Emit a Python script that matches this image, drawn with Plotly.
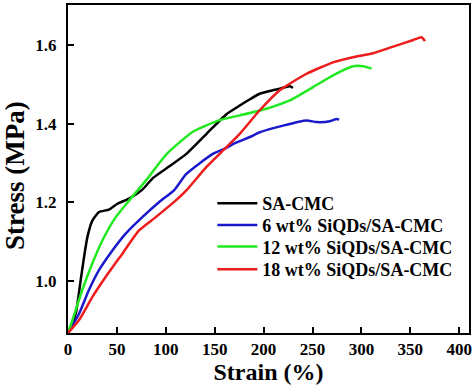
import plotly.graph_objects as go

# SA-CMC
sa_x = [0, 7.9, 13, 16.4, 19.8, 24.9, 31.7, 42, 50.5, 62.4, 76, 87, 104, 121, 141.6, 162, 175.6, 186, 196, 206, 216.5, 226.8, 230]
sa_y = [0.867, 0.916, 1.002, 1.06, 1.111, 1.153, 1.175, 1.181, 1.196, 1.209, 1.232, 1.262, 1.292, 1.323, 1.374, 1.424, 1.446, 1.462, 1.476, 1.483, 1.489, 1.495, 1.491]

# 6 wt%
b_x = [0, 11.3, 21.5, 31.7, 45.4, 59, 76, 93, 108.4, 121, 148, 160, 172.3, 186, 196, 219.9, 243.9, 254, 267.7, 274.6, 277.2]
b_y = [0.867, 0.916, 0.977, 1.027, 1.077, 1.12, 1.162, 1.2, 1.23, 1.272, 1.323, 1.336, 1.352, 1.366, 1.378, 1.395, 1.408, 1.404, 1.406, 1.412, 1.41]

# 12 wt%
g_x = [0, 4.5, 14.7, 25, 35, 48.8, 62.4, 79.5, 100.6, 128, 155, 175.6, 203, 226.8, 250.6, 271, 291.6, 301.8, 310.4]
g_y = [0.867, 0.9, 0.977, 1.045, 1.102, 1.162, 1.204, 1.255, 1.322, 1.38, 1.409, 1.421, 1.438, 1.459, 1.493, 1.523, 1.546, 1.546, 1.54]

# 18 wt%
r_x = [0, 11.3, 25, 38.6, 55.6, 72.6, 89.7, 110, 121, 141.6, 162, 175.6, 196, 216.5, 243.9, 271, 295, 312, 332.5, 353, 361.5, 365]
r_y = [0.867, 0.9, 0.959, 1.01, 1.069, 1.128, 1.162, 1.204, 1.23, 1.29, 1.34, 1.374, 1.434, 1.485, 1.527, 1.556, 1.571, 1.579, 1.596, 1.613, 1.62, 1.61]

names = ["SA-CMC", "6 wt% SiQDs/SA-CMC", "12 wt% SiQDs/SA-CMC", "18 wt% SiQDs/SA-CMC"]
colors = ["#000000", "#1a1acc", "#22e822", "#ee1c1c"]

x_ticks = [0, 50, 100, 150, 200, 250, 300, 350, 400]
y_ticks = [1.0, 1.2, 1.4, 1.6]

FONT = "Liberation Serif, Times New Roman, serif"

legend_ids = ["legend", "legend2", "legend3", "legend4"]
legend_y = [0.4512, 0.3851, 0.3189, 0.2500]

fig = go.Figure()
for xs, ys, nm, c, lg in zip([sa_x, b_x, g_x, r_x], [sa_y, b_y, g_y, r_y], names, colors, legend_ids):
    fig.add_trace(go.Scatter(x=xs, y=ys, mode="lines", name=nm, legend=lg,
                             line=dict(color=c, width=2.5, shape="spline", smoothing=0.5)))

axis_common = dict(
    showline=True, linecolor="black", linewidth=2, mirror=True,
    ticks="inside", ticklen=6, tickwidth=2, tickcolor="black",
    showgrid=False, zeroline=False, automargin=False,
    tickfont=dict(family=FONT, size=17, color="black", weight="bold"),
)

fig.update_xaxes(range=[0, 410], tickvals=x_ticks,
                 title=dict(text="Strain (%)", font=dict(family=FONT, size=24, color="black", weight="bold"), standoff=4),
                 ticklabelstandoff=0, **axis_common)
fig.update_yaxes(range=[0.867, 1.702], tickvals=y_ticks, tickformat=".1f",
                 ticklabelstandoff=6, **axis_common)

# y-axis title placed as a rotated text (matches the reference's lower position)
fig.add_annotation(text="Stress (MPa)", textangle=-90, showarrow=False,
                   xref="paper", yref="paper", x=-0.1322, y=0.4817,
                   xanchor="center", yanchor="middle",
                   font=dict(family=FONT, size=27, color="black", weight="bold"))

leg_common = dict(xanchor="left", yanchor="top", bgcolor="rgba(0,0,0,0)", borderwidth=0,
                  font=dict(family=FONT, size=18, color="black", weight="bold"),
                  itemwidth=40, tracegroupgap=0)
layout_legends = {}
for lg, ly in zip(legend_ids, legend_y):
    layout_legends[lg] = dict(x=0.360, y=ly, **leg_common)

fig.update_layout(
    width=474, height=387,
    margin=dict(l=68, r=5, t=5, b=54),
    paper_bgcolor="white", plot_bgcolor="white",
    font=dict(family=FONT, color="black"),
    showlegend=True,
    **layout_legends,
)

fig.write_html("out.html", config={"displayModeBar": False},
               post_script="document.body.style.margin='0';")
